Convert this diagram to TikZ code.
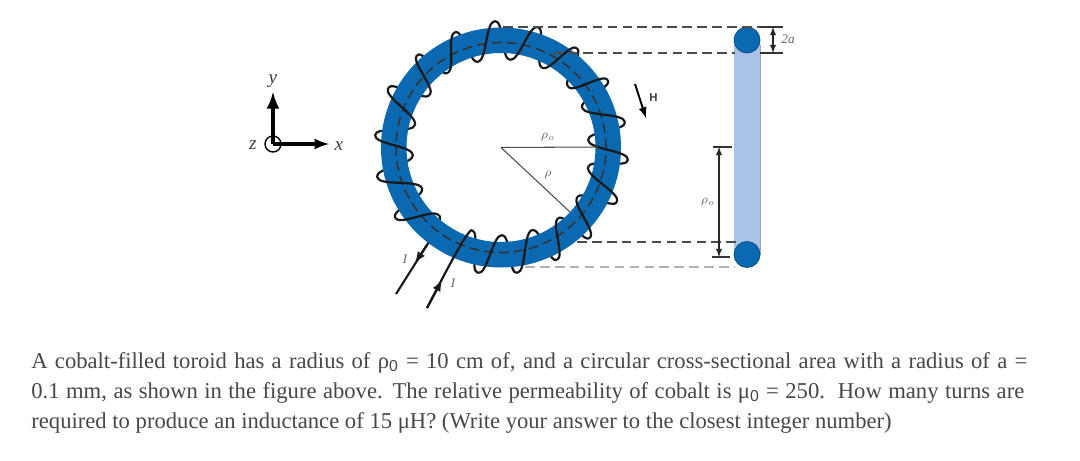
\documentclass[tikz,border=0pt]{standalone}
\usepackage{fontspec}
\setmainfont{Liberation Serif}
\setsansfont{Liberation Sans}
\begin{document}
\begin{tikzpicture}[>=latex,
    wire/.style={line width=1.25pt, black!90, looseness=0.55},
    lead/.style={line width=1.2pt, black!90},
    dashline/.style={dash pattern=on 5.5pt off 3pt, line width=0.6pt, black!70},
    dimline/.style={line width=0.6pt, black!85},
    tick/.style={line width=0.6pt, black!80},
    smalllabel/.style={inner sep=0pt, text=black!60, font=\fontsize{7.5}{8}\selectfont\itshape},
    axislabel/.style={inner sep=0pt, text=black!75, font=\fontsize{11}{12}\selectfont\itshape},
    textline/.style={anchor=base west, inner sep=0pt, text=black!72, font=\fontsize{12.88}{15}\selectfont}]

    \definecolor{coreblue}{HTML}{0A69B0}
    \definecolor{barblue}{HTML}{A9C3E8}

    \useasboundingbox (0,0) rectangle (21.6,9.2);

    \coordinate (c) at (10.02,6.25);

    \coordinate (1) at (9.56,7.96);
    \coordinate (2) at (9.90,8.78);
    \coordinate (3) at (10.20,8.00);
    \coordinate (4) at (10.76,8.66);
    \coordinate (5) at (10.84,7.84);
    \coordinate (6) at (11.54,8.24);
    \coordinate (7) at (11.36,7.46);
    \coordinate (8) at (12.16,7.60);
    \coordinate (9) at (11.64,7.04);
    \coordinate (10) at (12.50,6.76);
    \coordinate (11) at (11.76,6.40);
    \coordinate (12) at (12.56,6.00);
    \coordinate (13) at (11.76,5.86);
    \coordinate (14) at (12.34,5.16);
    \coordinate (15) at (11.54,5.26);
    \coordinate (16) at (11.80,4.44);
    \coordinate (17) at (11.16,4.84);
    \coordinate (18) at (11.14,4.00);
    \coordinate (19) at (10.64,4.60);
    \coordinate (20) at (10.34,3.74);
    \coordinate (21) at (10.04,4.50);
    \coordinate (22) at (9.56,3.74);
    \coordinate (23) at (9.44,4.60);
    \coordinate (24) at (8.54,3.04);
    \coordinate (25) at (8.78,4.90);
    \coordinate (26) at (7.90,4.84);
    \coordinate (27) at (8.44,5.44);
    \coordinate (28) at (7.54,5.66);
    \coordinate (29) at (8.26,6.10);
    \coordinate (30) at (7.50,6.50);
    \coordinate (31) at (8.30,6.70);
    \coordinate (32) at (7.76,7.44);
    \coordinate (33) at (8.60,7.30);
    \coordinate (34) at (8.34,8.10);
    \coordinate (35) at (8.96,7.74);
    \coordinate (36) at (9.10,8.56);
    \coordinate (37) at (8.54,4.30);
    \coordinate (38) at (7.92,3.32);

    \draw[wire] (2) to[out=3, in=174] (3);
    \draw[wire] (4) to[out=-17, in=153] (5);
    \draw[wire] (6) to[out=-37, in=132] (7);
    \draw[wire] (8) to[out=-58, in=116] (9);
    \draw[wire] (10) to[out=-78, in=95] (11);
    \draw[wire] (12) to[out=-96, in=77] (13);
    \draw[wire] (14) to[out=-115, in=57] (15);
    \draw[wire] (16) to[out=-135, in=39] (17);
    \draw[wire] (18) to[out=-154, in=21] (19);
    \draw[wire] (20) to[out=-173, in=1] (21);
    \draw[wire] (22) to[out=170, in=-19] (23);
    \draw[wire] (37) to[out=60, in=-43] (25);
    \draw[wire] (26) to[out=124, in=-63] (27);
    \draw[wire] (28) to[out=103, in=-85] (29);
    \draw[wire] (30) to[out=84, in=255] (31);
    \draw[wire] (32) to[out=62, in=233] (33);
    \draw[wire] (34) to[out=42, in=215] (35);
    \draw[wire] (36) to[out=22, in=195] (1);

    \fill[coreblue, even odd rule] (c) circle (2.4) (c) circle (1.89);
    \draw[dashline, line width=0.9pt, black!80] (c) circle (2.1);

    \draw[wire] (1) to[out=15, in=183] (2);
    \draw[wire] (3) to[out=-6, in=163] (4);
    \draw[wire] (5) to[out=-27, in=143] (6);
    \draw[wire] (7) to[out=-48, in=122] (8);
    \draw[wire] (9) to[out=-64, in=102] (10);
    \draw[wire] (11) to[out=-85, in=84] (12);
    \draw[wire] (13) to[out=-103, in=65] (14);
    \draw[wire] (15) to[out=-123, in=45] (16);
    \draw[wire] (17) to[out=-141, in=26] (18);
    \draw[wire] (19) to[out=-159, in=7] (20);
    \draw[wire] (21) to[out=-179, in=-10] (22);
    \draw[wire, looseness=0.15] (23) to[out=161, in=60] (24);
    \draw[wire] (25) to[out=137, in=-56] (26);
    \draw[wire] (27) to[out=117, in=-77] (28);
    \draw[wire] (29) to[out=95, in=264] (30);
    \draw[wire] (31) to[out=75, in=242] (32);
    \draw[wire] (33) to[out=53, in=222] (34);
    \draw[wire] (35) to[out=35, in=202] (36);
    \draw[lead] (37) to (38);

    \coordinate (leadin) at (8.84,3.60);
    \coordinate (leadout) at (8.30,3.94);
    \draw[lead, ->] (37) to (leadout);
    \draw[lead, ->] (24) to (leadin);
    \node[smalllabel] (i1) at (8.10,4.02) {I};
    \node[smalllabel] (i2) at (9.06,3.54) {I};

    \coordinate (rhoa) at (11.96,6.26);
    \coordinate (rhob) at (11.40,4.96);
    \draw[dimline, black!70] (c) to (rhoa);
    \draw[dimline, black!70] (c) to (rhob);
    \node[smalllabel] (rho0) at (10.96,6.46) {$\rho_o$};
    \node[smalllabel] (rho) at (10.96,5.70) {$\rho$};

    \coordinate (ha) at (12.70,7.52);
    \coordinate (hb) at (12.92,6.84);
    \draw[line width=1.1pt, ->] (ha) to (hb);
    \node[inner sep=0pt, text=black!75, font=\fontsize{6.5}{7}\sffamily\bfseries] (hlabel) at (13.07,7.24) {H};

    \fill[barblue] (14.68,4.10) rectangle (15.20,8.40);
    \draw[line width=0.4pt, black!35] (15.20,8.30) to (15.20,4.10);
    \node[circle, fill=coreblue, draw=coreblue!70!black, minimum size=0.52cm, inner sep=0pt] (crosstop) at (14.94,8.40) {};
    \node[circle, fill=coreblue, draw=coreblue!70!black, minimum size=0.52cm, inner sep=0pt] (crossbot) at (14.94,4.11) {};

    \coordinate (d1) at (10.06,8.66);
    \coordinate (d1e) at (15.20,8.66);
    \coordinate (d2) at (11.06,8.14);
    \coordinate (d2e) at (14.70,8.14);
    \coordinate (d3) at (11.54,4.36);
    \coordinate (d3e) at (14.76,4.36);
    \coordinate (d4) at (10.50,3.86);
    \coordinate (d4e) at (14.70,3.86);
    \draw[dashline] (d1) to (d1e);
    \draw[dashline] (d2) to (d2e);
    \draw[dashline] (d3) to (d3e);
    \draw[dashline, black!30, line width=0.8pt] (d4) to (d4e);

    \coordinate (ta1) at (15.20,8.66);
    \coordinate (ta2) at (15.66,8.66);
    \coordinate (tb1) at (15.20,8.14);
    \coordinate (tb2) at (15.66,8.14);
    \coordinate (a1) at (15.46,8.66);
    \coordinate (a2) at (15.46,8.14);
    \coordinate (am) at (15.46,8.40);
    \draw[tick] (ta1) to (ta2);
    \draw[tick] (tb1) to (tb2);
    \draw[dimline, ->] (am) to (a1);
    \draw[dimline, ->] (am) to (a2);
    \node[smalllabel] (twoa) at (15.76,8.42) {2a};

    \coordinate (tc1) at (14.26,6.26);
    \coordinate (tc2) at (14.64,6.26);
    \coordinate (td1) at (14.24,4.06);
    \coordinate (td2) at (14.60,4.06);
    \coordinate (b1) at (14.38,6.26);
    \coordinate (b2) at (14.38,4.06);
    \coordinate (bm) at (14.38,5.16);
    \draw[tick] (tc1) to (tc2);
    \draw[tick] (td1) to (td2);
    \draw[dimline, ->] (bm) to (b1);
    \draw[dimline, ->] (bm) to (b2);
    \node[smalllabel] (rhoo) at (14.16,5.16) {$\rho_o$};

    \coordinate (o) at (5.46,6.32);
    \coordinate (oy) at (5.46,7.36);
    \coordinate (ox) at (6.58,6.32);
    \draw[line width=2.2pt, ->] (o) to (oy);
    \draw[line width=1.8pt, ->] (o) to (ox);
    \draw[line width=0.8pt] (o) circle (0.16);
    \node[axislabel] (ylabel) at (5.46,7.58) {y};
    \node[axislabel] (xlabel) at (6.78,6.28) {x};
    \node[axislabel] (zlabel) at (5.06,6.30) {z};

    \node[textline] (line1) at (0.62,1.84) {\makebox[19.92cm][s]{A cobalt-filled toroid has a radius of ρ\textsubscript{\sffamily 0} = 10 cm of, and a circular cross-sectional area with a radius of a =}};
    \node[textline] (line2) at (0.62,1.24) {\makebox[19.86cm][s]{0.1 mm, as shown in the figure above. The relative permeability of cobalt is μ\textsubscript{\sffamily 0} = 250.\ \ How many turns are}};
    \node[textline] (line3) at (0.62,0.64) {required to produce an inductance of 15 μH? (Write your answer to the closest integer number)};

\end{tikzpicture}
\end{document}
